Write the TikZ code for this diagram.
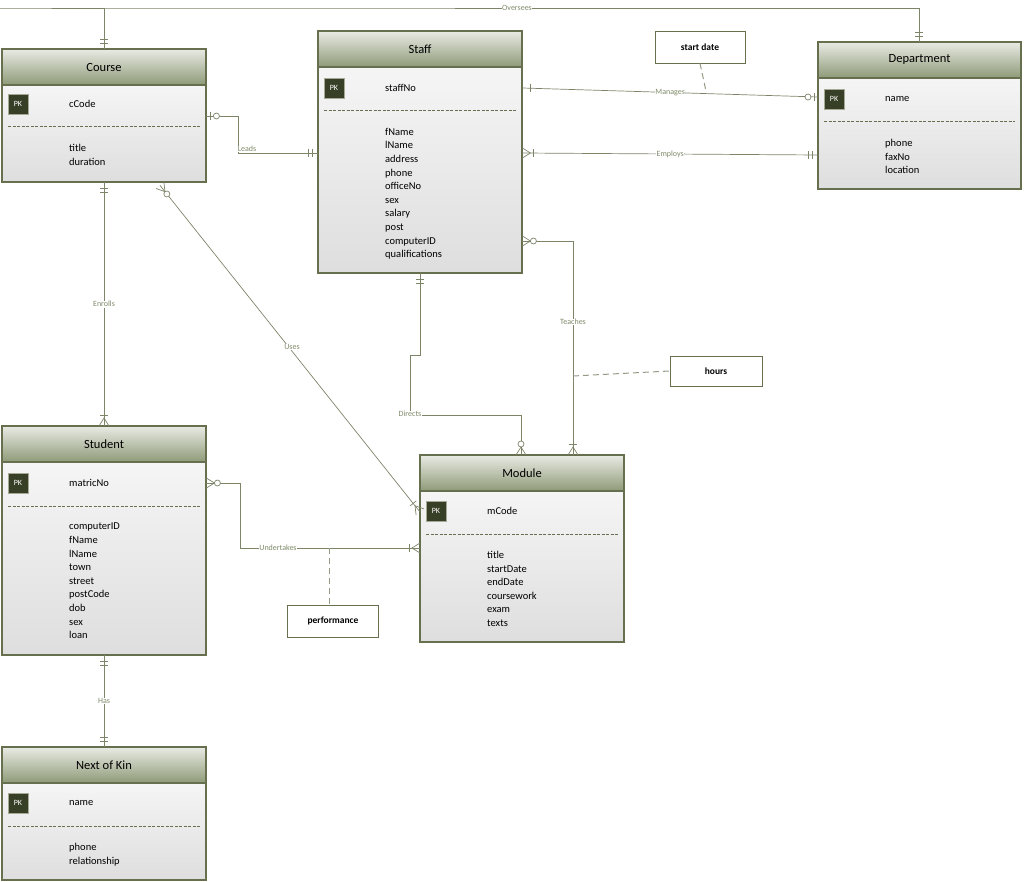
\documentclass[tikz,border=0pt]{standalone}
\usepackage{fontspec}
\setmainfont{Carlito}
\usetikzlibrary{calc}
\definecolor{ol}{HTML}{66704F}
\definecolor{hdT}{HTML}{E9EBE4}
\definecolor{hdB}{HTML}{8E9A78}
\definecolor{bdT}{HTML}{F5F5F5}
\definecolor{bdB}{HTML}{DEDEDE}
\definecolor{pkc}{HTML}{383F27}
\definecolor{lbl}{HTML}{7F8B6A}
\begin{document}
\begin{tikzpicture}[x=1pt,y=-1pt,
  conn/.style={draw=ol!85,line width=0.7pt},
  lab/.style={fill=white,inner sep=0.5pt,text=lbl,font=\fontsize{8}{9}\selectfont},
  attr/.style={anchor=north west,align=left,inner sep=0,font=\fontsize{10.5}{13.6}\selectfont},
  note/.style={draw=ol,line width=0.9pt,fill=white,font=\bfseries\fontsize{9.5}{11}\selectfont,inner sep=0},
  dsh/.style={draw=ol!70,line width=1pt,dash pattern=on 6pt off 4pt}]
\useasboundingbox (0,0) rectangle (1024,882);
% entity macro: name,x,y,w,h,title,pky,key,attrs
\newcommand\ent[9]{%
 \shade[top color=bdT,bottom color=bdB] (#2,#3+36) rectangle (#2+#4,#3+#5);
 \shade[top color=hdT,bottom color=hdB] (#2,#3) rectangle (#2+#4,#3+36);
 \draw[ol,line width=1.3pt] (#2,#3) rectangle (#2+#4,#3+#5);
 \draw[ol,line width=1.3pt] (#2,#3+36) -- (#2+#4,#3+36);
 \node[inner sep=0,font=\fontsize{12.5}{14}\selectfont] at (#2+#4/2,#3+18) {#6};
 \node[draw=ol!60,fill=pkc,text=white,minimum size=20pt,inner sep=0,font=\fontsize{8}{9}\selectfont] at (#2+16,#7) {PK};
 \node[anchor=west,inner sep=0,font=\fontsize{10.5}{12}\selectfont] at (#2+67,#7) {#8};
 \draw[ol,line width=1pt,dash pattern=on 3pt off 1.5pt] (#2+6,#7+23) -- (#2+#4-6,#7+23);
 \node[attr] at (#2+67,#7+40) {#9};
 \node[inner sep=0,minimum width=#4,minimum height=#5,anchor=north west] (#1) at (#2,#3) {};
}
\newcommand\emk[3]{\begin{scope}[shift={#1},rotate=#2,ol!85,line width=0.7pt]#3\end{scope}}
\def\one{\draw (6,-4)--(6,4) (10,-4)--(10,4);}
\def\sone{\draw (8,-4)--(8,4);}
\def\zone{\draw (4,-4)--(4,4); \draw[fill=white] (10,0) circle (3);}
\def\cone{\draw (0,-5)--(8,0)--(0,5); \draw (11,-4)--(11,4);}
\def\czero{\draw (0,-5)--(8,0)--(0,5); \draw[fill=white] (11,0) circle (3);}

\ent{course}{2}{49}{204}{133}{Course}{104}{cCode}{title\\duration}
\ent{staff}{318}{31}{204}{242}{Staff}{88}{staffNo}{fName\\lName\\address\\phone\\officeNo\\sex\\salary\\post\\computerID\\qualifications}
\ent{dept}{818}{42}{203}{147}{Department}{99}{name}{phone\\faxNo\\location}
\ent{student}{2}{426}{204}{229}{Student}{483}{matricNo}{computerID\\fName\\lName\\town\\street\\postCode\\dob\\sex\\loan}
\ent{module}{420}{455}{204}{187}{Module}{511}{mCode}{title\\startDate\\endDate\\coursework\\exam\\texts}
\ent{nok}{2}{747}{204}{133}{Next of Kin}{803}{name}{phone\\relationship}

\node[note,minimum width=90pt,minimum height=32pt] (sd) at (700,47) {start date};
\node[note,minimum width=92pt,minimum height=30pt] (hrs) at (716,371) {hours};
\node[note,minimum width=91pt,minimum height=32pt] (perf) at (333,621) {performance};

% Oversees
\coordinate (ov1) at ([xshift=102pt]course.north west);
\coordinate (ov2) at ([xshift=101pt]dept.north west);
\draw[conn] (ov1) |- (0,8) -| (ov2);
\node[lab] at (517,8) {Oversees};
\emk{(ov1)}{90}{\one}\emk{(ov2)}{90}{\one}
% Leads
\coordinate (le1) at ([yshift=-67pt]course.north east);
\coordinate (le2) at ([yshift=-122pt]staff.north west);
\draw[conn] (le1) -| (238,153) -- (le2);
\node[lab] at (247,149) {Leads};
\emk{(le1)}{0}{\zone}\emk{(le2)}{180}{\one}
% Manages
\coordinate (ma1) at ([yshift=-57pt]staff.north east);
\coordinate (ma2) at ([yshift=-55pt]dept.north west);
\draw[conn] (ma1) -- (ma2) node[lab,pos=0.5] (mal) {Manages};
\draw[dsh] (sd.south) -- (706,91);
\emk{(ma1)}{0}{\sone}\emk{(ma2)}{180}{\zone}
% Employs
\coordinate (em1) at ([yshift=-122pt]staff.north east);
\coordinate (em2) at ([yshift=-113pt]dept.north west);
\draw[conn] (em1) -- (em2) node[lab,pos=0.5] {Employs};
\emk{(em1)}{0}{\cone}\emk{(em2)}{180}{\one}
% Teaches
\coordinate (te1) at ([yshift=-210pt]staff.north east);
\coordinate (te2) at ([xshift=153pt]module.north west);
\draw[conn] (te1) -| (te2);
\node[lab] at (573,322) {Teaches};
\draw[dsh] (573,376) -- (hrs.west);
\emk{(te1)}{0}{\czero}\emk{(te2)}{90}{\cone}
% Directs
\coordinate (di1) at ([xshift=102pt]staff.south west);
\coordinate (di2) at ([xshift=101pt]module.north west);
\draw[conn] (di1) -- (420,355) -- (410,355) -- (410,415) -| (di2);
\node[lab] at (410,414) {Directs};
\emk{(di1)}{270}{\one}\emk{(di2)}{90}{\czero}
% Enrolls
\coordinate (en1) at ([xshift=102pt]course.south west);
\coordinate (en2) at ([xshift=102pt]student.north west);
\draw[conn] (en1) -- (en2) node[lab,pos=0.5] {Enrolls};
\emk{(en1)}{270}{\one}\emk{(en2)}{90}{\cone}
% Uses
\coordinate (us1) at ([xshift=158pt,yshift=-3pt]course.south west);
\coordinate (us2) at ([yshift=-57pt]module.north west);
\draw[conn] (us1) -- (us2);
\node[lab] at (292,347) {Uses};
\emk{(us1)}{-51.5}{\czero}\emk{(us2)}{128.5}{\cone}
% Undertakes
\coordinate (un1) at ([yshift=-57pt]student.north east);
\coordinate (un2) at ([yshift=-93pt]module.north west);
\draw[conn] (un1) -| (240,548) -- (un2);
\node[lab] at (278,548) {Undertakes};
\draw[dsh] (329,548) -- (perf.north -| 329,0);
\emk{(un1)}{0}{\czero}\emk{(un2)}{180}{\cone}
% Has
\coordinate (ha1) at ([xshift=102pt]student.south west);
\coordinate (ha2) at ([xshift=102pt]nok.north west);
\draw[conn] (ha1) -- (ha2) node[lab,pos=0.5] {Has};
\emk{(ha1)}{270}{\one}\emk{(ha2)}{90}{\one}
\end{tikzpicture}
\end{document}
